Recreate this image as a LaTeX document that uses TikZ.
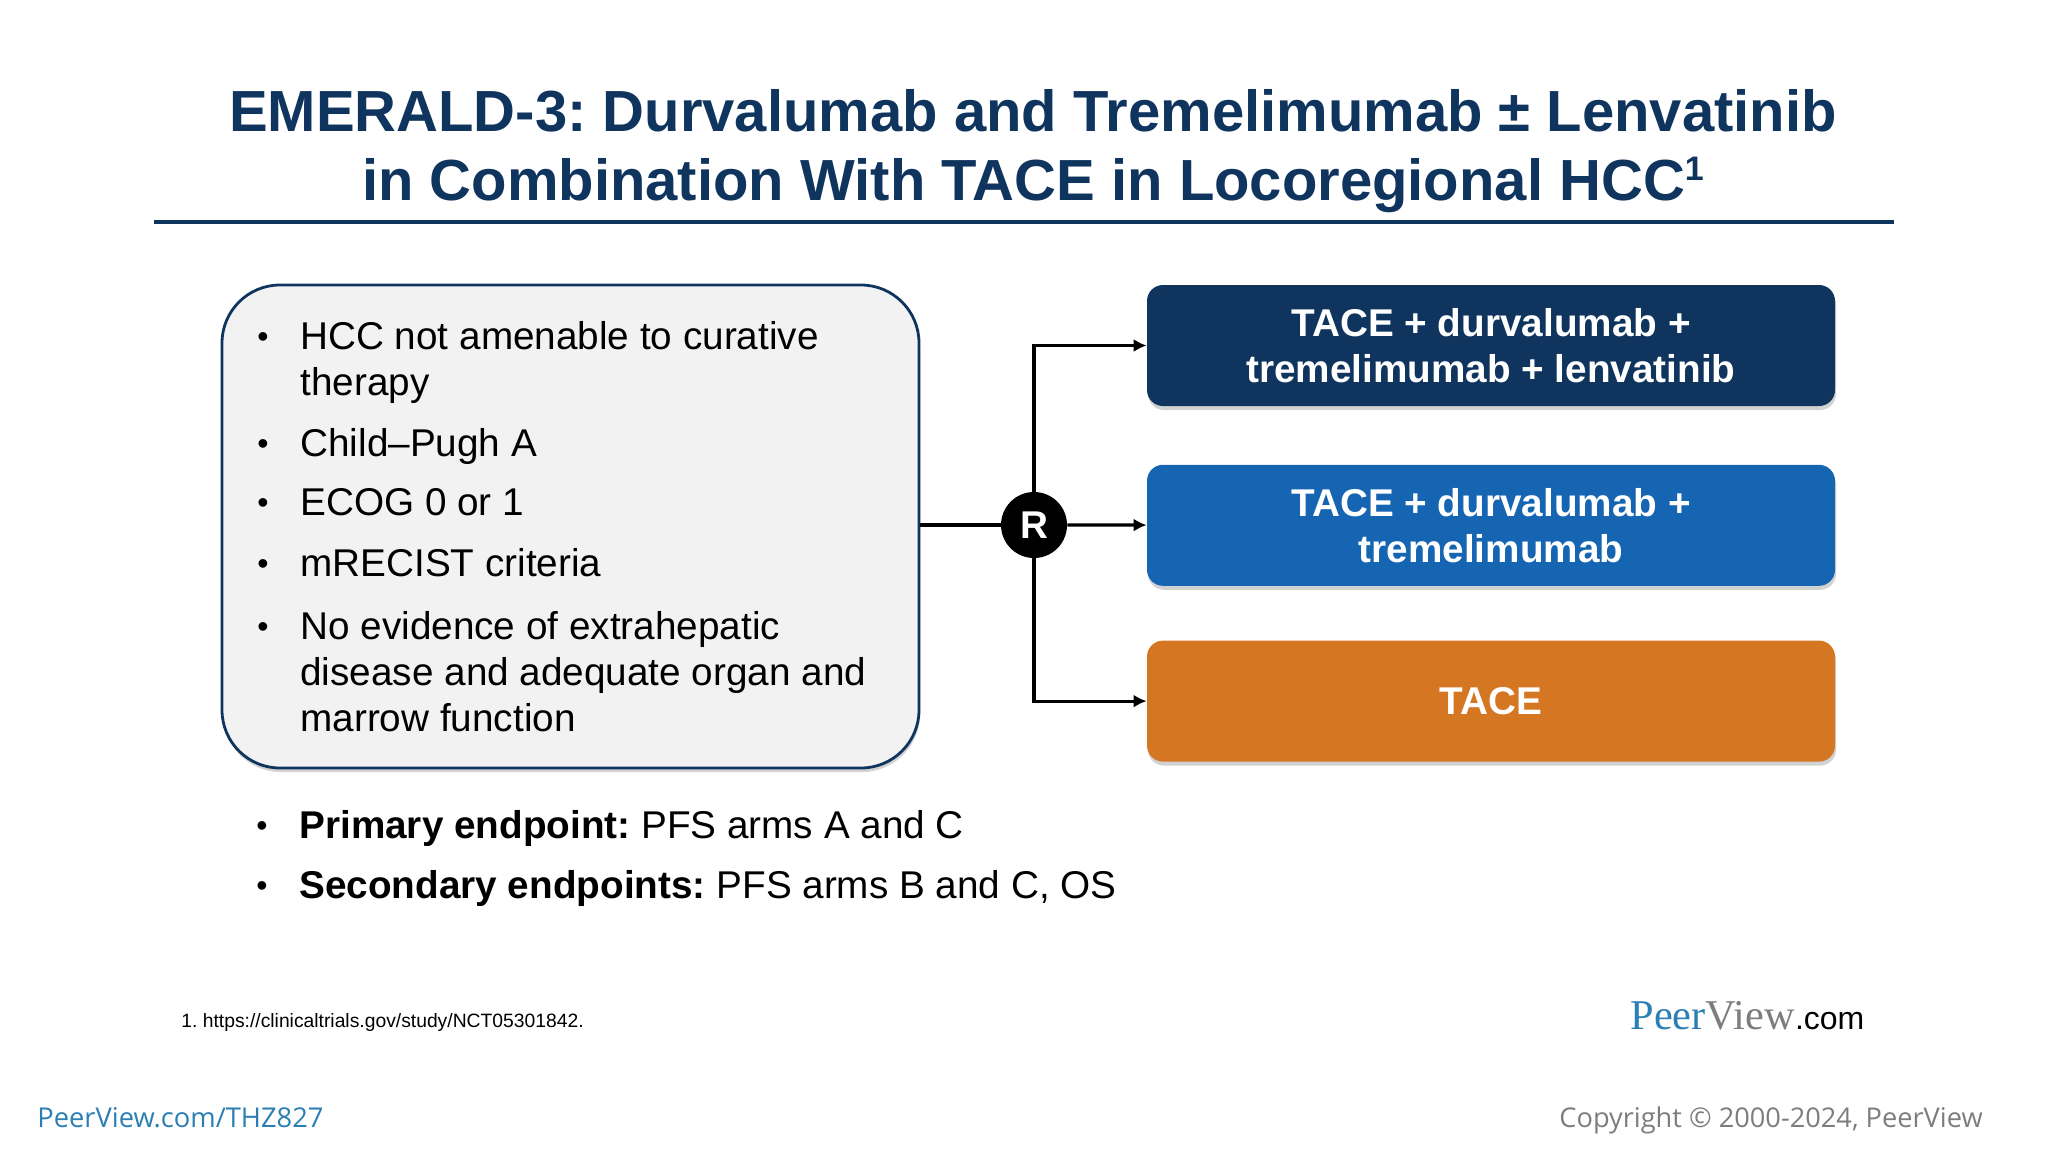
\documentclass[tikz,border=0pt]{standalone}
\usepackage{fontspec}
\setmainfont{Liberation Sans}
\newfontfamily\logoserif{Liberation Serif}
\newfontfamily\footfont{Open Sans}
\usetikzlibrary{positioning,arrows.meta,shadows}
\frenchspacing
\definecolor{navy}{HTML}{0F355F}
\definecolor{midblue}{HTML}{1565B3}
\definecolor{tace}{HTML}{D57722}
\definecolor{pvblue}{HTML}{2B7FB4}
\definecolor{pvgrey}{HTML}{7D7D7D}
\newcommand{\bul}{\makebox[21.5pt][l]{\raisebox{1pt}{\fontsize{16}{16}\selectfont\textbullet}}}
\newcommand{\bodyfont}{\fontsize{19.35}{23}\selectfont}
\tikzset{
    softshadow/.style={drop shadow={shadow xshift=0.5pt,shadow yshift=-2pt,opacity=0.25,fill=black!70}},
    armbox/.style={rectangle,rounded corners=8pt,minimum width=344pt,minimum height=60.5pt,inner sep=0pt,
        align=center,text=white,font=\bfseries\bodyfont,softshadow},
    bodytext/.style={anchor=north west,inner sep=0pt,align=left,font=\bodyfont},
    arw/.style={line width=1.6pt,-{Latex[length=6.5pt,width=6.5pt]}},
}
\begin{document}
\begin{tikzpicture}[x=0.5pt,y=-0.5pt]
    \useasboundingbox (0,0) rectangle (2048,1152);
    % title
    \node[font=\bfseries\fontsize{29}{34.5}\selectfont,text=navy,align=center,inner sep=0pt] (title) at (1033,151)
        {EMERALD-3: Durvalumab and Tremelimumab ± Lenvatinib\\in Combination With TACE in Locoregional HCC{\fontsize{17}{17}\selectfont\raisebox{10pt}{1}}};
    \coordinate (ruleL) at (154,222);
    \coordinate (ruleR) at (1894,222);
    \draw[navy,line width=2pt] (ruleL) -- (ruleR);
    % inclusion box
    \node[rectangle,rounded corners=29pt,draw=navy,line width=1.4pt,fill=black!5,minimum width=348.5pt,minimum height=241.5pt,
        inner sep=0pt,softshadow] (incl) at (570.5,526.5) {};
    \node[bodytext] (b1) at (257,321) {\bul HCC not amenable to curative\\\hspace*{21.5pt}therapy};
    \node[bodytext] (b2) at (257,428) {\bul Child–Pugh A};
    \node[bodytext] (b3) at (257,488) {\bul ECOG 0 or 1};
    \node[bodytext] (b4) at (257,548) {\bul mRECIST criteria};
    \node[bodytext] (b5) at (257,611) {\bul No evidence of extrahepatic\\\hspace*{21.5pt}disease and adequate organ and\\\hspace*{21.5pt}marrow function};
    % arms
    \node[armbox,fill=navy] (armA) at (1491,345.5) {TACE + durvalumab +\\tremelimumab + lenvatinib};
    \node[armbox,fill=midblue,below=29pt of armA] (armB) {TACE + durvalumab +\\tremelimumab};
    \node[armbox,fill=tace,below=27pt of armB] (armC) {TACE};
    \node[circle,fill=black,text=white,minimum size=33pt,inner sep=0pt,font=\bfseries\bodyfont] (rand) at (1034,525) {R};
    \draw[line width=1.6pt] (incl.east |- rand) -- (rand);
    \draw[arw] (rand) |- (armA);
    \draw[arw] (rand) -- (armB);
    \draw[arw] (rand) |- (armC);
    % endpoints
    \node[bodytext] (e1) at (256,810) {\bul\textbf{Primary endpoint:} PFS arms A and C};
    \node[bodytext] (e2) at (256,870) {\bul\textbf{Secondary endpoints:} PFS arms B and C, OS};
    % footers
    \node[anchor=west,inner sep=0pt,font=\fontsize{9.65}{11}\selectfont] (cite) at (181,1022) {1. https://clinicaltrials.gov/study/NCT05301842.};
    \node[anchor=west,inner sep=0pt] (logo) at (1630,1016) {{\logoserif\fontsize{21.2}{24}\selectfont\textcolor{pvblue}{Peer}\textcolor{pvgrey}{View}}{\fontsize{16}{20}\selectfont .com}};
    \node[anchor=base west,inner sep=0pt,text=pvblue,font=\footfont\fontsize{13.65}{17}\selectfont] (link) at (37,1127) {PeerView.com/THZ827};
    \node[anchor=base east,inner sep=0pt,text=pvgrey,font=\footfont\fontsize{13.6}{17}\selectfont] (copy) at (1983,1127) {Copyright © 2000-2024, PeerView};
\end{tikzpicture}
\end{document}
